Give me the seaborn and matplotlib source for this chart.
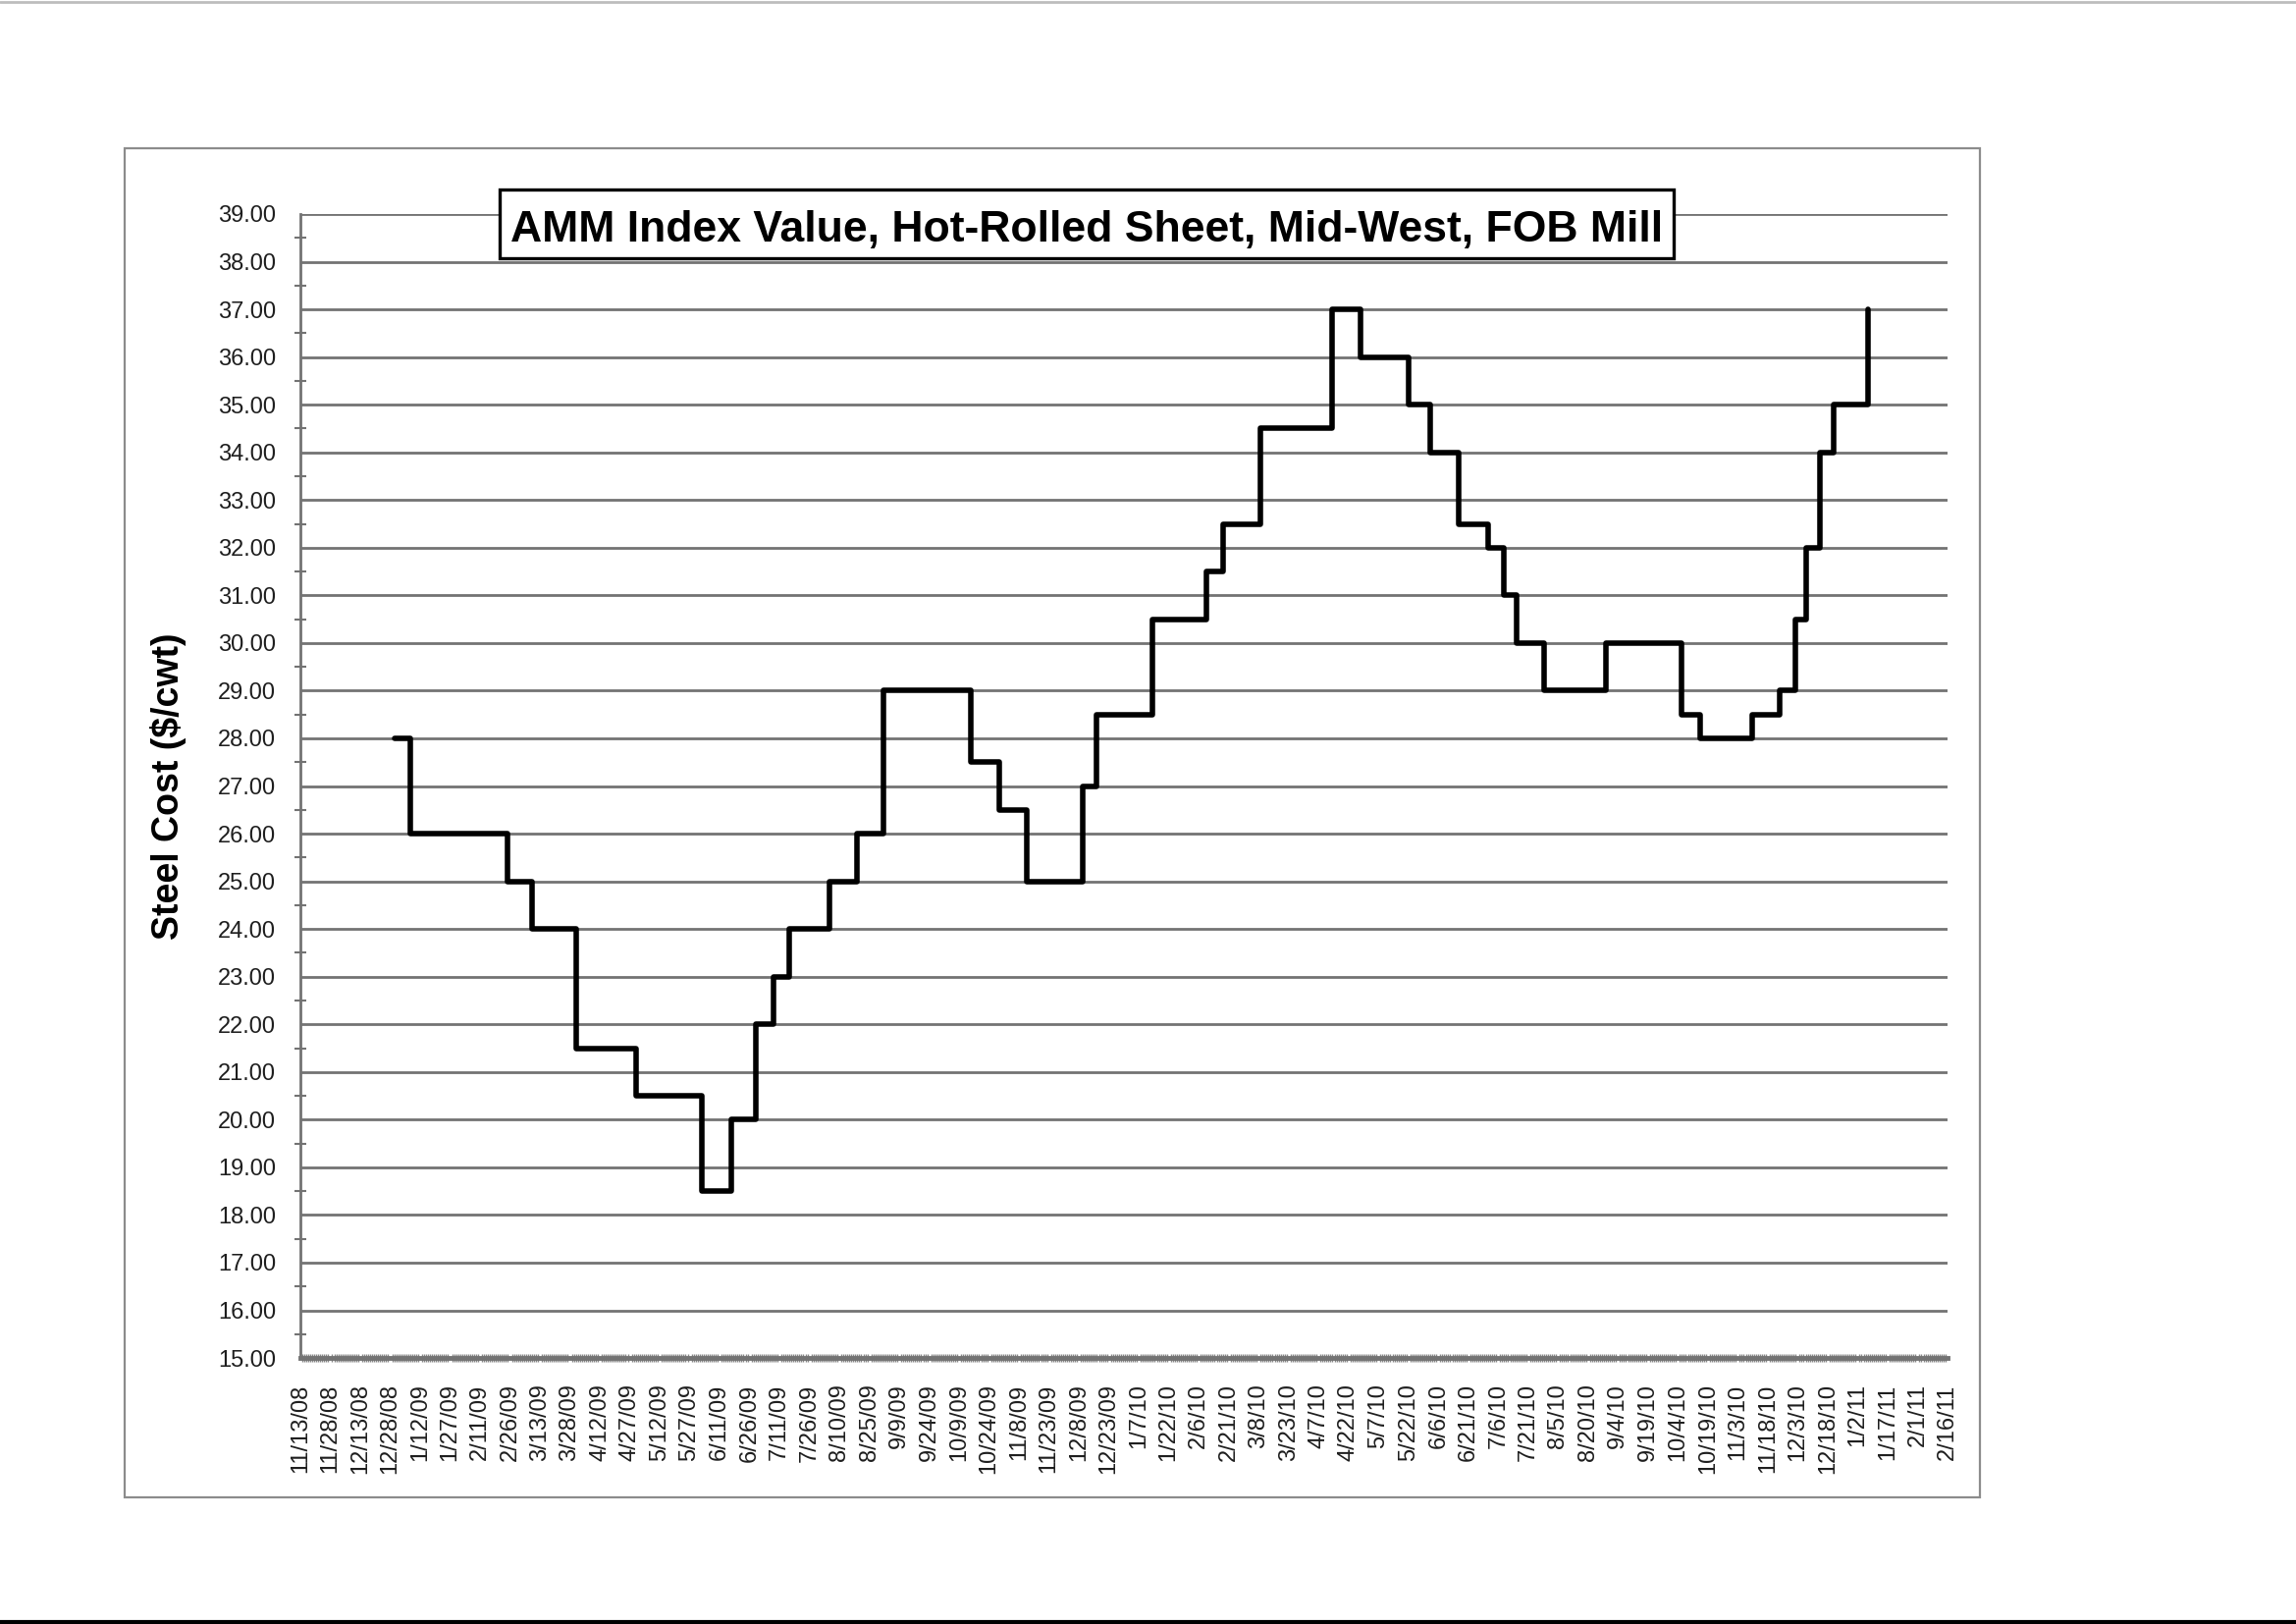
import matplotlib
matplotlib.use("Agg")
import matplotlib.pyplot as plt
import matplotlib.dates as mdates
from matplotlib.patches import Rectangle
from matplotlib.ticker import MultipleLocator, FormatStrFormatter, FixedLocator
import pandas as pd
import seaborn as sns

# step changes of the index (date the new price takes effect)
change_dates = [
    "12/30/08", "1/7/09", "2/25/09", "3/9/09", "3/31/09", "4/30/09",
    "6/2/09", "6/17/09", "6/29/09", "7/8/09", "7/16/09", "8/5/09",
    "8/19/09", "9/1/09", "10/15/09", "10/29/09", "11/12/09", "12/10/09",
    "12/17/09", "1/14/10", "2/10/10", "2/18/10", "3/9/10", "4/14/10",
    "4/28/10", "5/22/10", "6/2/10", "6/16/10", "7/1/10", "7/9/10",
    "7/15/10", "7/29/10", "8/29/10", "10/6/10", "10/15/10", "11/10/10",
    "11/24/10", "12/2/10", "12/7/10", "12/14/10", "12/21/10", "1/7/11",
]
steel_cost = [
    28.0, 26.0, 25.0, 24.0, 21.5, 20.5,
    18.5, 20.0, 22.0, 23.0, 24.0, 25.0,
    26.0, 29.0, 27.5, 26.5, 25.0, 27.0,
    28.5, 30.5, 31.5, 32.5, 34.5, 37.0,
    36.0, 35.0, 34.0, 32.5, 32.0, 31.0,
    30.0, 29.0, 30.0, 28.5, 28.0, 28.5,
    29.0, 30.5, 32.0, 34.0, 35.0, 37.0,
]

tick_labels = [
    "11/13/08", "11/28/08", "12/13/08", "12/28/08", "1/12/09", "1/27/09",
    "2/11/09", "2/26/09", "3/13/09", "3/28/09", "4/12/09", "4/27/09",
    "5/12/09", "5/27/09", "6/11/09", "6/26/09", "7/11/09", "7/26/09",
    "8/10/09", "8/25/09", "9/9/09", "9/24/09", "10/9/09", "10/24/09",
    "11/8/09", "11/23/09", "12/8/09", "12/23/09", "1/7/10", "1/22/10",
    "2/6/10", "2/21/10", "3/8/10", "3/23/10", "4/7/10", "4/22/10",
    "5/7/10", "5/22/10", "6/6/10", "6/21/10", "7/6/10", "7/21/10",
    "8/5/10", "8/20/10", "9/4/10", "9/19/10", "10/4/10", "10/19/10",
    "11/3/10", "11/18/10", "12/3/10", "12/18/10", "1/2/11", "1/17/11",
    "2/1/11", "2/16/11",
]

title = "AMM Index Value, Hot-Rolled Sheet, Mid-West, FOB Mill"
ylabel = "Steel Cost ($/cwt)"

df = pd.DataFrame({
    "date": pd.to_datetime(change_dates, format="%m/%d/%y"),
    "cost": steel_cost,
})
tick_pos = pd.to_datetime(tick_labels, format="%m/%d/%y")

sns.set_style("white")
plt.rcParams["font.family"] = ["Liberation Sans", "DejaVu Sans"]

fig = plt.figure(figsize=(23.39, 16.54), dpi=100)
ax = fig.add_axes([0.1308, 0.1638, 0.7174, 0.7044])

grid_c = "#737373"
sns.lineplot(data=df, x="date", y="cost", ax=ax, color="black",
             linewidth=4.0, drawstyle="steps-post", estimator=None,
             zorder=3)

ax.set_ylim(15, 39)
ax.set_xlim(tick_pos[0], tick_pos[-1])

ax.yaxis.set_major_locator(MultipleLocator(1))
ax.yaxis.set_minor_locator(MultipleLocator(0.5))
ax.yaxis.set_major_formatter(FormatStrFormatter("%.2f"))
ax.grid(axis="y", which="major", color=grid_c, linewidth=2.0)
ax.grid(axis="x", visible=False)

ax.xaxis.set_major_locator(FixedLocator(mdates.date2num(tick_pos)))
ax.set_xticklabels(tick_labels, rotation=90)
ax.xaxis.set_minor_locator(mdates.DayLocator())

ax.tick_params(axis="y", which="major", direction="out", length=6,
               width=1.5, color=grid_c, labelsize=17, pad=12,
               labelcolor="#1e1e1e")
ax.tick_params(axis="y", which="minor", direction="inout", length=9,
               width=1.5, color=grid_c, left=True)
ax.tick_params(axis="x", which="major", direction="out", length=7,
               width=1.3, color=grid_c, labelsize=17, pad=12,
               labelcolor="#1e1e1e")
ax.tick_params(axis="x", which="minor", direction="inout", length=6,
               width=1.0, color="#858585", bottom=True)

for side in ["top", "right"]:
    ax.spines[side].set_visible(False)
ax.spines["left"].set_color(grid_c)
ax.spines["left"].set_linewidth(2.0)
ax.spines["bottom"].set_color(grid_c)
ax.spines["bottom"].set_linewidth(3.5)

ax.set_xlabel("")
ax.set_ylabel("")
fig.text(0.0735, 0.516, ylabel, rotation=90, ha="center", va="center",
         fontsize=27, fontweight="bold", color="black")

# title box sitting over the top of the plot area
fig.patches.append(Rectangle((0.2176, 0.841), 0.5113, 0.0423,
                             transform=fig.transFigure, facecolor="white",
                             edgecolor="black", linewidth=2.4, zorder=5))
fig.text(0.4733, 0.851, title, ha="center", va="baseline", fontsize=32,
         fontweight="bold", color="black", zorder=6)

# chart area border
fig.patches.append(Rectangle((0.0543, 0.078), 0.8080, 0.8307,
                             transform=fig.transFigure, facecolor="none",
                             edgecolor="#8c8c8c", linewidth=1.6, zorder=1))
# scanner edges
fig.add_artist(plt.Line2D([0, 1], [0.999, 0.999], color="#bdbdbd",
                          linewidth=2, transform=fig.transFigure))
fig.add_artist(plt.Line2D([0, 1], [0.0015, 0.0015], color="black",
                          linewidth=3, transform=fig.transFigure))

fig.savefig("out.png", dpi=100, facecolor="white")
